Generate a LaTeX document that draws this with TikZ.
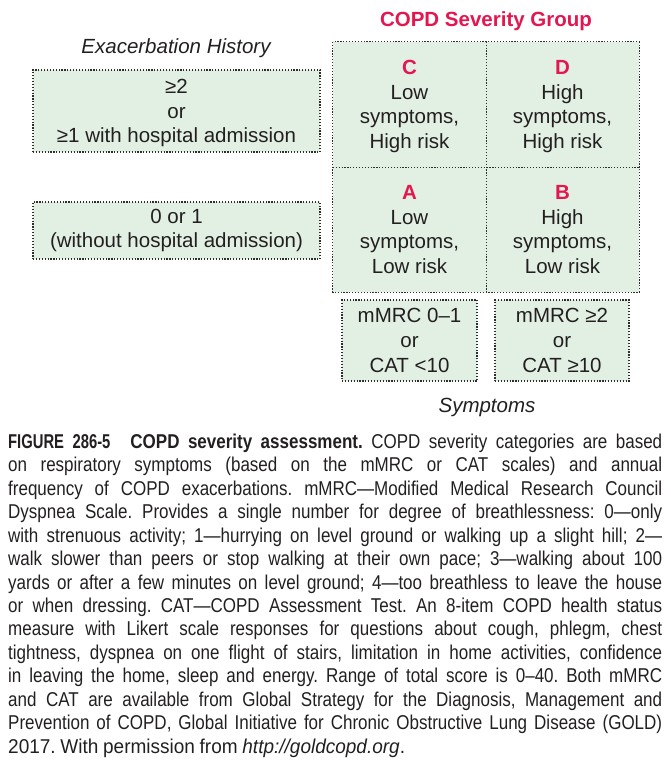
\documentclass[tikz,border=0pt]{standalone}
\usepackage{fontspec}
\setmainfont{Liberation Sans}
\newfontfamily\capfont[FakeStretch=0.85]{Liberation Sans}
\newfontfamily\capwide[FakeStretch=0.95]{Liberation Sans}
\newfontfamily\figfont[FakeStretch=0.74]{Liberation Sans Bold}
\definecolor{boxfill}{RGB}{226,240,227}
\definecolor{boxline}{RGB}{45,45,45}
\definecolor{copdred}{RGB}{228,22,80}
\definecolor{txt}{RGB}{35,31,32}
\newcommand\dfont{\fontsize{20.5}{24.7}\selectfont}
\newcommand\cfont{\capfont\fontsize{20}{23.46}\selectfont\frenchspacing
  \spaceskip=4.7pt plus 14pt minus 1.2pt\xspaceskip=\spaceskip}
\newcommand\hi{\rule{0pt}{18.5pt}}
\begin{document}
\begin{tikzpicture}[x=1pt,y=-1pt,
  dotbox/.style={draw=boxline, fill=boxfill, line width=1.2pt,
    dash pattern=on 1.2pt off 1.7pt, inner sep=0pt, align=center,
    font=\dfont, text=txt},
  cell/.style={fill=boxfill, inner sep=0pt, align=center, font=\dfont,
    text=txt, minimum width=153pt, minimum height=125pt},
  gridline/.style={draw=boxline, line width=1.2pt, dash pattern=on 1.2pt off 1.7pt},
  ttl/.style={font=\dfont, text=txt, inner sep=0pt, anchor=base},
  capl/.style={font=\cfont, text=txt, inner sep=0pt, anchor=base west}]
\useasboundingbox (0,0) rectangle (670,765);
% titles
\node[ttl] (exh) at (176,54) {\itshape Exacerbation History};
\node[ttl, text=copdred] (sev) at (486,27) {\bfseries COPD Severity Group};
\node[ttl] (sym) at (487,412) {\itshape Symptoms};
% exacerbation boxes
\node[dotbox, minimum width=287pt, minimum height=82pt] (ex1) at (176.5,111)
  {\hi≥2\\or\\≥1 with hospital admission};
\node[dotbox, minimum width=287pt, minimum height=57pt] (ex0) at (176.5,230.5)
  {0 or 1\\(without hospital admission)};
% grid cells
\node[cell] (C) at (409.5,104.5) {\hi{\color{copdred}\bfseries C}\\Low\\symptoms,\\High risk};
\node[cell] (D) at (562.5,104.5) {\hi{\color{copdred}\bfseries D}\\High\\symptoms,\\High risk};
\node[cell] (A) at (409.5,229.5) {{\color{copdred}\bfseries A}\\Low\\symptoms,\\Low risk};
\node[cell] (B) at (562.5,229.5) {{\color{copdred}\bfseries B}\\High\\symptoms,\\Low risk};
\draw[gridline] (C.north west) rectangle (B.south east);
\draw[gridline] (C.north east) -- (A.south east);
\draw[gridline] (C.south west) -- (D.south east);
% symptom boxes
\node[dotbox, minimum width=135pt, minimum height=81pt] (s1) at (409.5,340.5)
  {mMRC 0–1\\or\\CAT <10};
\node[dotbox, minimum width=134pt, minimum height=81pt] (s2) at (562,340.5)
  {mMRC ≥2\\or\\CAT ≥10};
% caption
\node[capl] (cap1) at (8,448.3) {\hbox to 654pt{{\figfont FIGURE 286-5}\hspace{20pt}\textbf{COPD severity assessment.} COPD severity categories are based}};
\node[capl] (cap2) at (8,471.76) {\hbox to 654pt{on respiratory symptoms (based on the mMRC or CAT scales) and annual}};
\node[capl] (cap3) at (8,495.22) {\hbox to 654pt{frequency of COPD exacerbations. mMRC—Modified Medical Research Council}};
\node[capl] (cap4) at (8,518.68) {\hbox to 654pt{Dyspnea Scale. Provides a single number for degree of breathlessness: 0—only}};
\node[capl] (cap5) at (8,542.14) {\hbox to 654pt{with strenuous activity; 1—hurrying on level ground or walking up a slight hill; 2—}};
\node[capl] (cap6) at (8,565.6) {\hbox to 654pt{walk slower than peers or stop walking at their own pace; 3—walking about 100}};
\node[capl] (cap7) at (8,589.06) {\hbox to 654pt{yards or after a few minutes on level ground; 4—too breathless to leave the house}};
\node[capl] (cap8) at (8,612.52) {\hbox to 654pt{or when dressing. CAT—COPD Assessment Test. An 8-item COPD health status}};
\node[capl] (cap9) at (8,635.98) {\hbox to 654pt{measure with Likert scale responses for questions about cough, phlegm, chest}};
\node[capl] (cap10) at (8,659.44) {\hbox to 654pt{tightness, dyspnea on one flight of stairs, limitation in home activities, confidence}};
\node[capl] (cap11) at (8,682.9) {\hbox to 654pt{in leaving the home, sleep and energy. Range of total score is 0–40. Both mMRC}};
\node[capl] (cap12) at (8,706.36) {\hbox to 654pt{and CAT are available from Global Strategy for the Diagnosis, Management and}};
\node[capl] (cap13) at (8,729.82) {\hbox to 654pt{Prevention of COPD, Global Initiative for Chronic Obstructive Lung Disease (GOLD)}};
\node[capl] (cap14) at (8,753.28) {\capwide 2017. With permission from \textit{http://goldcopd.org}.};
\end{tikzpicture}
\end{document}
